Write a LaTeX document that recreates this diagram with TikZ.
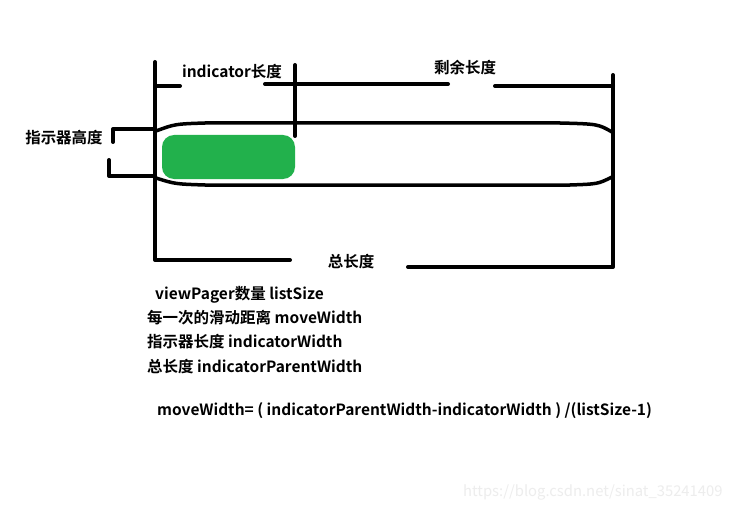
\documentclass[tikz,border=0pt]{standalone}
\usepackage{fontspec}
\setmainfont{Noto Sans CJK SC}[BoldFont={Noto Sans CJK SC Bold}]
\definecolor{paintgreen}{RGB}{34,177,76}
\tikzset{
	txt/.style={font=\bfseries\fontsize{15.5}{18}\selectfont, inner sep=0pt},
	pen/.style={draw=black, line width=4pt, line cap=round, line join=round}
}
\begin{document}
\begin{tikzpicture}[x=1pt,y=-1pt]
	\useasboundingbox[fill=white] (0,0) rectangle (732,511);
	% brackets over the bar
	\draw[pen] (155,62) -- (155,260) -- (290,260);
	\draw[pen] (155,86) -- (180,86);
	\draw[pen] (265,84) -- (448,84);
	\draw[pen] (295,65) -- (295,136);
	\draw[pen] (495,86) -- (613,86);
	\draw[pen] (613,75) -- (613,267) -- (408,267);
	% the bar
	\draw[pen,line width=3.5pt] (156,131) .. controls (175,124) .. (205,123) -- (560,123) .. controls (598,124) .. (612,132);
	\draw[pen,line width=3.5pt] (156,178) .. controls (175,184) .. (205,185) -- (570,185) .. controls (598,184) .. (612,177);
	% height bracket
	\draw[pen] (113,142) -- (113,129) -- (155,129);
	\draw[pen] (109,160) -- (109,176) -- (155,176);
	% indicator
	\fill[paintgreen, rounded corners=12pt] (162,135) rectangle (295,179);
	% labels
	\node[txt] (indlen) at (232,72) {indicator长度};
	\node[txt] (restlen) at (465,68) {剩余长度};
	\node[txt] (totlen) at (351,262) {总长度};
	\node[txt] (indheight) at (64,138) {指示器高度};
	\node[txt, anchor=west] (listsize) at (155,295) {viewPager数量 listSize};
	\node[txt, anchor=west] (movew) at (147,318) {每一次的滑动距离 moveWidth};
	\node[txt, anchor=west] (indw) at (147,342) {指示器长度 indicatorWidth};
	\node[txt, anchor=west] (parentw) at (147,367) {总长度 indicatorParentWidth};
	\node[txt, anchor=west] (formula) at (157,411) {moveWidth= ( indicatorParentWidth-indicatorWidth ) /(listSize-1)};
	\node[inner sep=0pt, anchor=west, text=black!7, font=\fontsize{14.8}{17}\selectfont] (mark) at (463,492) {https://blog.csdn.net/sinat\_35241409};
\end{tikzpicture}
\end{document}
